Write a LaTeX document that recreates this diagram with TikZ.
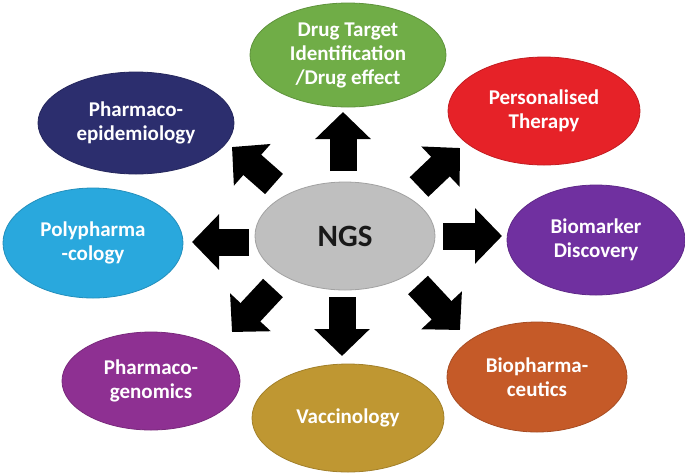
\documentclass[tikz,border=0pt]{standalone}
\usepackage{fontspec}
\setmainfont{Carlito}
\usetikzlibrary{shapes.geometric,arrows.meta}
\definecolor{cgreen}{RGB}{112,173,71}
\definecolor{cred}{RGB}{230,34,40}
\definecolor{cnavy}{RGB}{44,46,110}
\definecolor{cblue}{RGB}{41,168,221}
\definecolor{cpurple}{RGB}{112,48,160}
\definecolor{cmagenta}{RGB}{142,48,146}
\definecolor{cgold}{RGB}{191,151,50}
\definecolor{corange}{RGB}{197,90,40}
\definecolor{cgray}{RGB}{191,191,191}
\tikzset{
  bubble/.style={ellipse, inner sep=0pt, text=white, align=center,
    font=\fontsize{21}{24}\selectfont\bfseries, line width=0.8pt},
  blockarrow/.style={draw=black, line width=27pt, -{Triangle[length=27pt,width=54pt]}}
}
\begin{document}
\begin{tikzpicture}[x=1pt,y=-1pt]
\fill[white] (0,0) rectangle (685,475);
\useasboundingbox (0,0) rectangle (685,475);

\node[bubble, fill=cgray, draw=cgray!85!black, text=black!90,
  font=\fontsize{31}{34}\selectfont\bfseries,
  minimum width=180pt, minimum height=108pt] (ngs) at (345,236) {NGS};

\node[bubble, fill=cgreen, draw=cgreen!85!black, minimum width=196pt, minimum height=104pt]
  (drug) at (348,55) {Drug Target\\Identification\\/Drug effect};
\node[bubble, fill=cred, draw=cred!85!black, minimum width=192pt, minimum height=108pt]
  (pers) at (544,111) {Personalised\\Therapy};
\node[bubble, fill=cnavy, draw=cnavy!85!black, minimum width=196pt, minimum height=102pt]
  (epi) at (136,123) {Pharmaco-\\epidemiology};
\node[bubble, fill=cblue, draw=cblue!85!black, minimum width=180pt, minimum height=110pt]
  (poly) at (93,243) {Polypharma\\-cology};
\node[bubble, fill=cpurple, draw=cpurple!85!black, minimum width=178pt, minimum height=110pt]
  (bio) at (596,240) {Biomarker\\Discovery};
\node[bubble, fill=cmagenta, draw=cmagenta!85!black, minimum width=178pt, minimum height=98pt]
  (gen) at (151,381) {Pharmaco-\\genomics};
\node[bubble, fill=cgold, draw=cgold!85!black, minimum width=192pt, minimum height=108pt]
  (vac) at (348,418) {Vaccinology};
\node[bubble, fill=corange, draw=corange!85!black, minimum width=180pt, minimum height=110pt]
  (bph) at (537,377) {Biopharma-\\ceutics};

% arrow end points
\coordinate (tU) at (343,171);  \coordinate (hU) at (343,112);
\coordinate (tUL) at (274,184); \coordinate (hUL) at (232,147);
\coordinate (tUR) at (419,187); \coordinate (hUR) at (460,148);
\coordinate (tL) at (249,242);  \coordinate (hL) at (192,242);
\coordinate (tR) at (443,236);  \coordinate (hR) at (502,236);
\coordinate (tDL) at (273,288); \coordinate (hDL) at (232,332);
\coordinate (tD) at (342,297);  \coordinate (hD) at (342,356);
\coordinate (tDR) at (418,285); \coordinate (hDR) at (460,330);

\draw[blockarrow] (tU) -- (hU);
\draw[blockarrow] (tUL) -- (hUL);
\draw[blockarrow] (tUR) -- (hUR);
\draw[blockarrow] (tL) -- (hL);
\draw[blockarrow] (tR) -- (hR);
\draw[blockarrow] (tDL) -- (hDL);
\draw[blockarrow] (tD) -- (hD);
\draw[blockarrow] (tDR) -- (hDR);
\end{tikzpicture}
\end{document}
